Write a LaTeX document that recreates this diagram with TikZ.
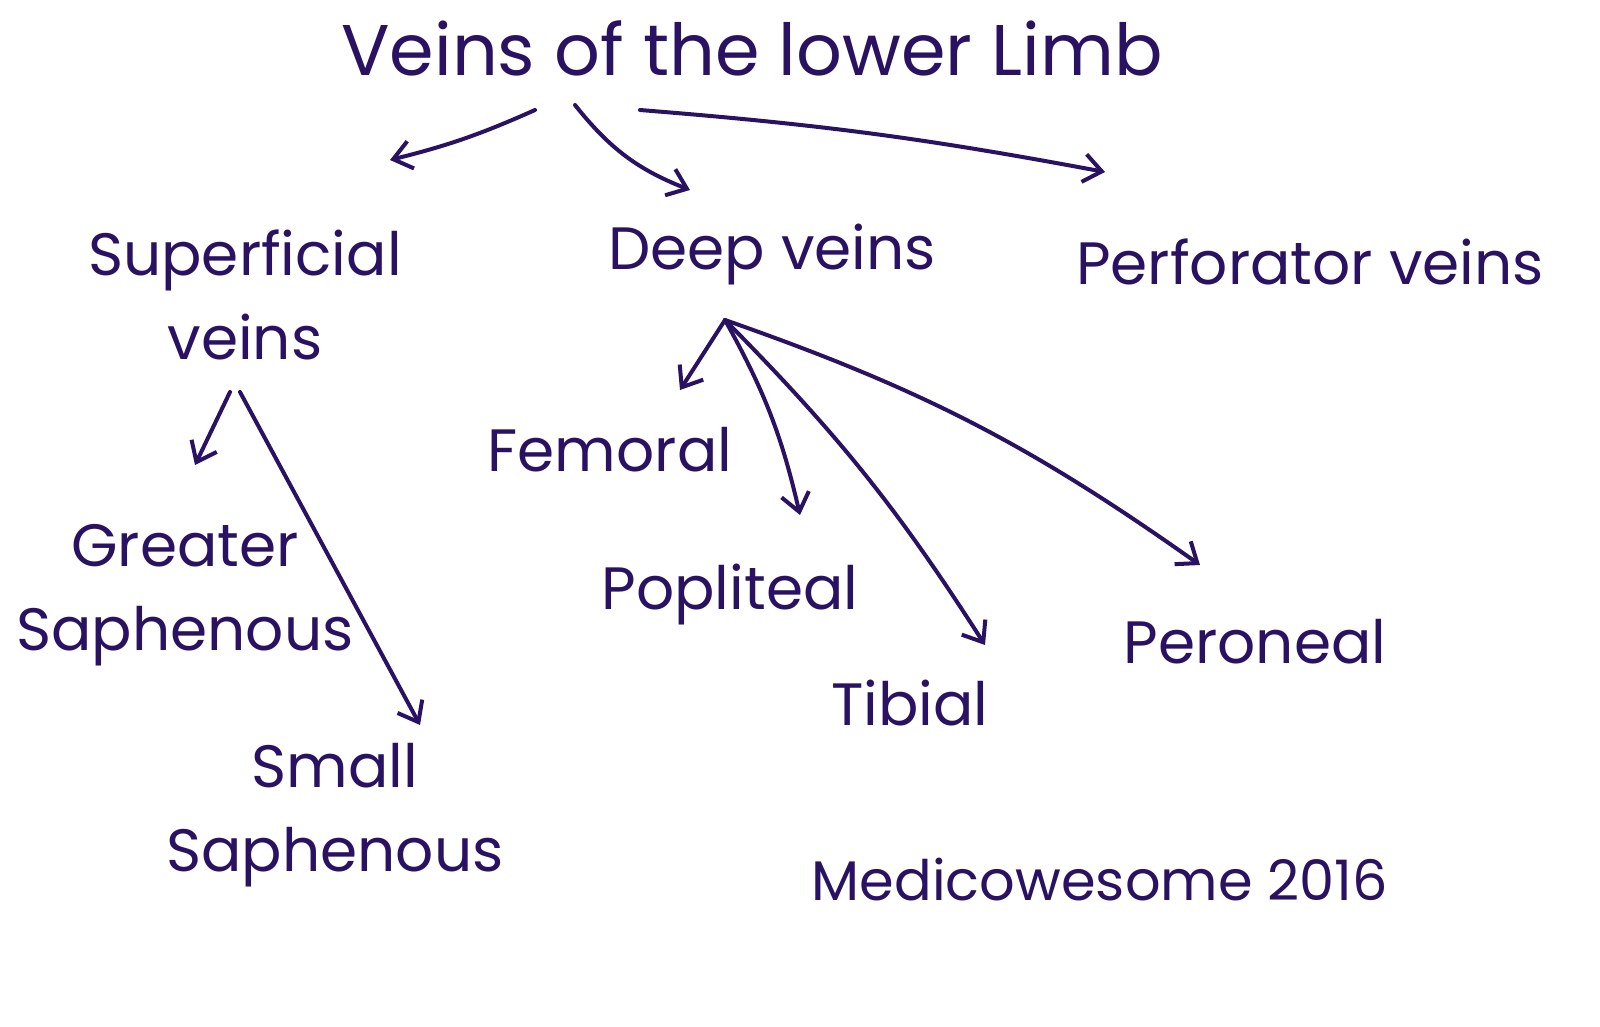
\documentclass[tikz,border=0pt]{standalone}
\usepackage{fontspec}
\setmainfont{Poppins}
\usetikzlibrary{arrows.meta}
\definecolor{inkColor}{HTML}{2A1262}

\begin{document}
\begin{tikzpicture}[x=0.5bp,y=-0.5bp,
  every node/.style={text=inkColor, font=\fontsize{30}{42}\selectfont, align=center},
  link/.style={draw=inkColor, line width=2bp, line cap=round,
    -{Straight Barb[length=9bp, width=14bp, line width=2bp]}}]
\useasboundingbox (0,0) rectangle (1600,1026);

% heading
\node (title) at (752,48) {\fontsize{36}{40}\selectfont Veins of the lower Limb};

% first level
\node (superficial) at (245,295) {Superficial\\veins};
\node (deep) at (772,255) {Deep veins};
\node (perforator) at (1310,262) {Perforator veins};

% superficial branch
\node (greater) at (185,595) {Greater\\Saphenous};
\node (small) at (335,815) {Small\\Saphenous};

% deep branch
\node (femoral) at (610,450) {Femoral};
\node (popliteal) at (730,595) {Popliteal};
\node (tibial) at (910,703) {Tibial};
\node (peroneal) at (1255,642) {Peroneal};

% signature
\node (sign) at (1100,880) {\fontsize{28}{32}\selectfont Medicowesome 2016};

% arrow ends
\coordinate (tA) at (535,110);
\coordinate (tB) at (575,105);
\coordinate (tC) at (640,110);
\coordinate (supIn) at (390,160);
\coordinate (deepIn) at (690,190);
\coordinate (perfIn) at (1105,172);
\coordinate (dA) at (725,320);
\coordinate (femIn) at (680,390);
\coordinate (popIn) at (800,515);
\coordinate (tibIn) at (985,645);
\coordinate (perIn) at (1200,565);
\coordinate (sA) at (230,392);
\coordinate (sB) at (240,392);
\coordinate (greIn) at (195,465);
\coordinate (smaIn) at (420,725);

% links from the heading
\draw[link] (tA) to[bend left=5] (supIn);
\draw[link] (tB) to[bend right=15] (deepIn);
\draw[link] (tC) to[bend left=3] (perfIn);

% links from deep veins
\draw[link] (dA) -- (femIn);
\draw[link] (dA) to[bend left=8] (popIn);
\draw[link] (dA) to[bend left=6] (tibIn);
\draw[link] (dA) to[bend left=8] (perIn);

% links from superficial veins
\draw[link] (sA) -- (greIn);
\draw[link] (sB) -- (smaIn);
\end{tikzpicture}
\end{document}
